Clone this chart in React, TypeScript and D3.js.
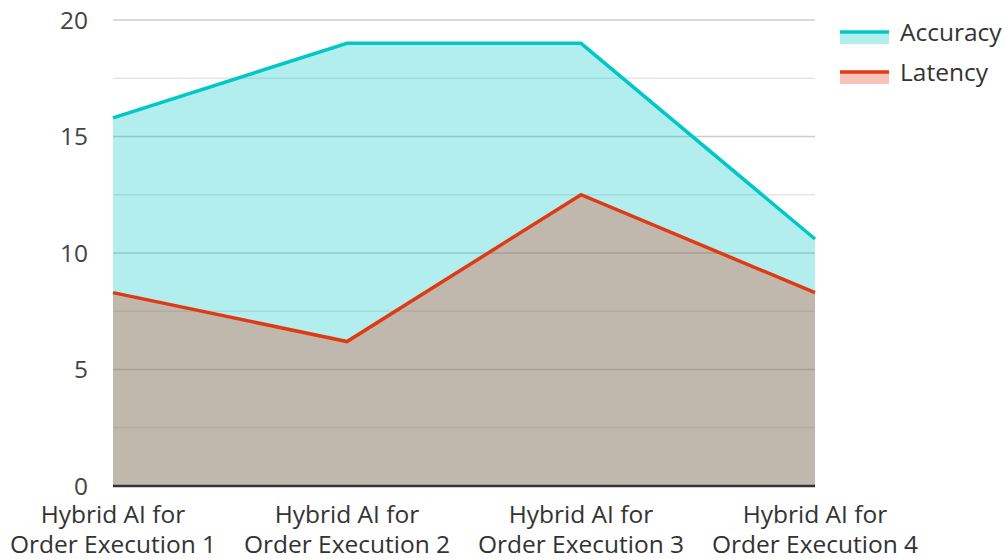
import React from "react";
import * as d3 from "d3";

const categories = [
  "Hybrid AI for Order Execution 1",
  "Hybrid AI for Order Execution 2",
  "Hybrid AI for Order Execution 3",
  "Hybrid AI for Order Execution 4",
];
const accuracy = [15.8, 19.0, 19.0, 10.6];
const latency = [8.3, 6.2, 12.5, 8.3];
const yTicks = [0, 5, 10, 15, 20];
const yMinorTicks = [2.5, 7.5, 12.5, 17.5];

const series = [
  { name: "Accuracy", values: accuracy, color: "#00c8c6" },
  { name: "Latency", values: latency, color: "#e03a14" },
];

export default function App() {
  const W = 1005, H = 559;
  const left = 113, right = 815, top = 20, bottom = 486;
  const x = d3.scalePoint<string>().domain(categories).range([left, right]).padding(0);
  const y = d3.scaleLinear().domain([0, 20]).range([bottom, top]);
  const font = "'Open Sans', 'Noto Sans', sans-serif";
  const fs = 24.5;

  const area = d3
    .area<number>()
    .x((_, i) => x(categories[i]) as number)
    .y0(y(0))
    .y1((d) => y(d));
  const line = d3
    .line<number>()
    .x((_, i) => x(categories[i]) as number)
    .y((d) => y(d));

  return (
    <svg width={W} height={H} style={{ position: "absolute", left: 0, top: 0 }} fontFamily={font}>
      <rect width={W} height={H} fill="#fff" />
      {yMinorTicks.map((t) => (
        <line key={"m" + t} x1={left} x2={right} y1={y(t)} y2={y(t)} stroke="#e6e6e6" strokeWidth={1.5} />
      ))}
      {yTicks.map((t) => (
        <line key={"g" + t} x1={left} x2={right} y1={y(t)} y2={y(t)} stroke="#cccccc" strokeWidth={1.5} />
      ))}
      {series.map((s) => (
        <path key={"a" + s.name} d={area(s.values) || ""} fill={s.color} fillOpacity={0.3} />
      ))}
      {series.map((s) => (
        <path key={"l" + s.name} d={line(s.values) || ""} fill="none" stroke={s.color} strokeWidth={3.5} strokeLinejoin="miter" />
      ))}
      <line x1={left} x2={right} y1={y(0)} y2={y(0)} stroke="#333" strokeWidth={2.5} />
      {yTicks.map((t) => (
        <text key={"t" + t} x={88} y={y(t)} dy="0.35em" textAnchor="end" fontSize={fs} fill="#444">
          {t}
        </text>
      ))}
      {categories.map((c) => {
        const words = c.split(" ");
        const l1 = words.slice(0, 3).join(" ");
        const l2 = words.slice(3).join(" ");
        return (
          <text key={c} x={x(c)} textAnchor="middle" fontSize={fs} fill="#333">
            <tspan x={x(c)} y={523}>{l1}</tspan>
            <tspan x={x(c)} y={553}>{l2}</tspan>
          </text>
        );
      })}
      {series.map((s, i) => (
        <g key={"lg" + s.name} transform={`translate(840, ${32 + i * 40})`}>
          <rect x={0} y={0} width={49} height={12} fill={s.color} fillOpacity={0.3} />
          <line x1={0} x2={49} y1={0} y2={0} stroke={s.color} strokeWidth={3.5} />
          <text x={60} y={0} dy="0.35em" fontSize={fs} fill="#333">{s.name}</text>
        </g>
      ))}
    </svg>
  );
}
